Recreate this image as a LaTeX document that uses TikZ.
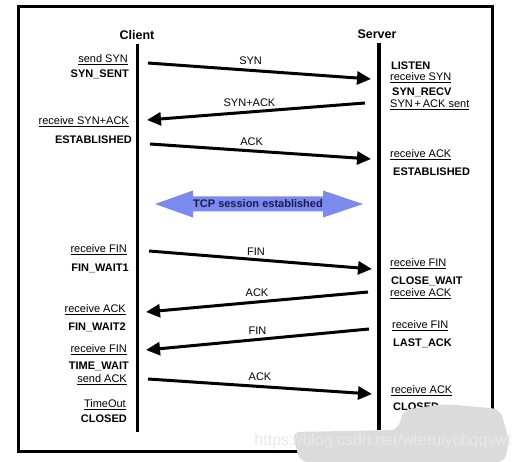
\documentclass[tikz,border=0pt]{standalone}
\usepackage{fontspec}
\setmainfont{Liberation Sans}
\usepackage{xcolor}
\usetikzlibrary{arrows.meta}

\definecolor{tcpblue}{RGB}{124,138,238}
\definecolor{tcpnavy}{RGB}{24,26,84}

\tikzset{
  lbl/.style={inner sep=1pt,font=\fontsize{11bp}{13bp}\selectfont},
  cstate/.style={lbl,anchor=east},
  sstate/.style={lbl,anchor=west},
  msg/.style={line width=3bp,-{Triangle[length=14bp,width=13bp]}},
  lifeline/.style={line width=3.5bp},
}

\begin{document}
\begin{tikzpicture}[x=1bp,y=-1bp]
    \useasboundingbox (0,0) rectangle (522,462);
    \draw[line width=3bp] (18.5,7) rectangle (492,451.5);

    \node[lbl,font=\fontsize{12.5bp}{15bp}\selectfont\bfseries] (client) at (137,35) {Client};
    \node[lbl,font=\fontsize{12.5bp}{15bp}\selectfont\bfseries] (server) at (377,34) {Server};

    \coordinate (ctop) at (137.5,44);
    \coordinate (cbot) at (137.5,432);
    \coordinate (stop) at (379,43);
    \coordinate (sbot) at (379,430);
    \draw[lifeline] (ctop) -- (cbot);
    \draw[lifeline] (stop) -- (sbot);

    % client states
    \node[cstate] (c1) at (129,60) {\underline{send SYN}};
    \node[cstate,font=\fontsize{11bp}{13bp}\selectfont\bfseries] (c2) at (130,74) {SYN\_SENT};
    \node[cstate] (c3) at (130,122) {\underline{receive SYN+ACK}};
    \node[cstate,font=\fontsize{11bp}{13bp}\selectfont\bfseries] (c4) at (133,140) {ESTABLISHED};
    \node[cstate] (c5) at (128,250) {\underline{receive FIN}};
    \node[cstate,font=\fontsize{11bp}{13bp}\selectfont\bfseries] (c6) at (130,268) {FIN\_WAIT1};
    \node[cstate] (c7) at (127,310) {\underline{receive ACK}};
    \node[cstate,font=\fontsize{11bp}{13bp}\selectfont\bfseries] (c8) at (127,327) {FIN\_WAIT2};
    \node[cstate] (c9) at (128,350) {\underline{receive FIN}};
    \node[cstate,font=\fontsize{11bp}{13bp}\selectfont\bfseries] (c10) at (130,366) {TIME\_WAIT};
    \node[cstate] (c11) at (128,380) {\underline{send ACK}};
    \node[cstate] (c12) at (127,405) {\underline{TimeOut}};
    \node[cstate,font=\fontsize{11bp}{13bp}\selectfont\bfseries] (c13) at (128,419) {CLOSED};

    % server states
    \node[sstate,font=\fontsize{11bp}{13bp}\selectfont\bfseries] (s1) at (390,66) {LISTEN};
    \node[sstate] (s2) at (389,78) {\underline{receive SYN}};
    \node[sstate,font=\fontsize{11bp}{13bp}\selectfont\bfseries] (s3) at (391,92) {SYN\_RECV};
    \node[sstate] (s4) at (389,105) {\underline{SYN\,+\,ACK sent}};
    \node[sstate] (s5) at (389,155) {\underline{receive ACK}};
    \node[sstate,font=\fontsize{11bp}{13bp}\selectfont\bfseries] (s6) at (392,172) {ESTABLISHED};
    \node[sstate] (s7) at (389,264) {\underline{receive FIN}};
    \node[sstate,font=\fontsize{11bp}{13bp}\selectfont\bfseries] (s8) at (390,281) {CLOSE\_WAIT};
    \node[sstate] (s9) at (389,294) {\underline{receive ACK}};
    \node[sstate] (s10) at (391,326) {\underline{receive FIN}};
    \node[sstate,font=\fontsize{11bp}{13bp}\selectfont\bfseries] (s11) at (392,343) {LAST\_ACK};
    \node[sstate] (s12) at (390,391) {\underline{receive ACK}};
    \node[sstate,font=\fontsize{11bp}{13bp}\selectfont\bfseries] (s13) at (392,407) {CLOSED};

    % message end points
    \coordinate (a1) at (148,63);  \coordinate (b1) at (371,79);
    \coordinate (b2) at (365,103); \coordinate (a2) at (147,120);
    \coordinate (a3) at (150,144); \coordinate (b3) at (371,159);
    \coordinate (a4) at (149,251); \coordinate (b4) at (372,269);
    \coordinate (b5) at (368,292); \coordinate (a5) at (146,312);
    \coordinate (b6) at (369,329); \coordinate (a6) at (146,350);
    \coordinate (a7) at (148,379); \coordinate (b7) at (372,394);

    \draw[msg] (a1) -- node[lbl,above=3bp,pos=0.46]{SYN} (b1);
    \draw[msg] (b2) -- node[lbl,above=3bp,pos=0.53]{SYN+ACK} (a2);
    \draw[msg] (a3) -- node[lbl,above=3bp,pos=0.46]{ACK} (b3);
    \draw[msg] (a4) -- node[lbl,above=2bp,pos=0.48]{FIN} (b4);
    \draw[msg] (b5) -- node[lbl,above=3bp,pos=0.5]{ACK} (a5);
    \draw[msg] (b6) -- node[lbl,above=3bp,pos=0.5]{FIN} (a6);
    \draw[msg] (a7) -- node[lbl,above=3bp,pos=0.5]{ACK} (b7);

    % session arrow
    \fill[tcpblue] (155,204) -- (193,190.5) -- (193,196.5) -- (323,196.5) -- (323,190.5)
        -- (363,204) -- (323,217.5) -- (323,211.5) -- (193,211.5) -- (193,217.5) -- cycle;
    \node[lbl,text=tcpnavy,font=\fontsize{11bp}{13bp}\selectfont\bfseries] (tcp) at (258,204) {TCP session established};

    % watermark
    \fill[gray!28,rounded corners=8bp] (292,432) -- (398,430) -- (403,410) -- (445,404)
        -- (500,409) -- (509,440) -- (505,462) -- (300,462) -- cycle;
    \node[lbl,text=gray!18,font=\fontsize{16bp}{18bp}\selectfont] (wm) at (383,441) {https://blog.csdn.net/wteruiycbqqvwt};
\end{tikzpicture}
\end{document}
